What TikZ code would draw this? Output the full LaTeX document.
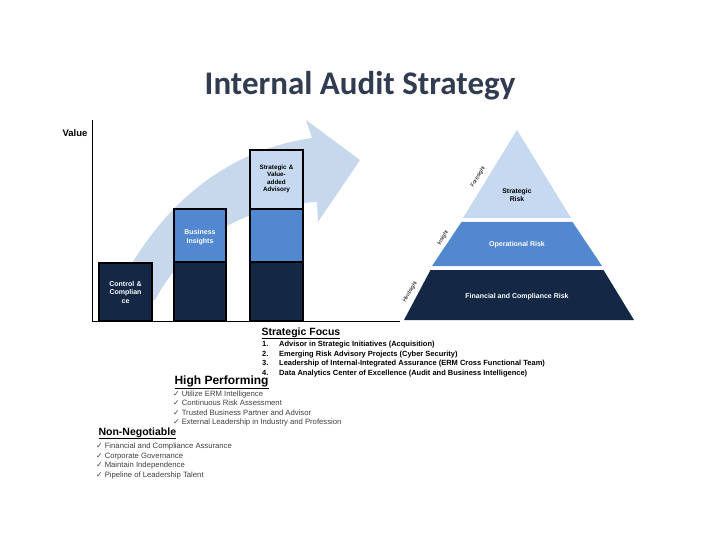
\documentclass[tikz,border=0pt]{standalone}
\usepackage{fontspec}
\setmainfont{Liberation Sans}
\newfontfamily\titlefont{Carlito}
\newfontfamily\dejavu{DejaVu Sans}
\newcommand{\chk}{{\dejavu ✓}}
\definecolor{navy}{RGB}{20,40,70}
\definecolor{midb}{RGB}{82,136,208}
\definecolor{lightb}{RGB}{198,217,240}
\definecolor{arrowb}{RGB}{200,216,236}
\definecolor{titlec}{RGB}{50,60,80}
\begin{document}
\begin{tikzpicture}[x=1pt,y=-1pt,
  bar/.style={draw=black,line width=1.6pt},
  inbar/.style={font=\fontsize{7}{8.5}\selectfont\bfseries,align=center,text width=50pt},
  head/.style={font=\fontsize{10.5}{12}\selectfont\bfseries,anchor=base west},
  item/.style={font=\fontsize{7.7}{8}\selectfont,anchor=base west,inner sep=1pt}]
\useasboundingbox[fill=white] (0,0) rectangle (720,540);
\node[font=\titlefont\fontsize{33}{38}\selectfont\bfseries,text=titlec] (title) at (360,86) {Internal Audit Strategy};
% arrow
\fill[arrowb] (112,300) .. controls (160,200) and (230,150) .. (312,138) -- (306,120) -- (360,160) -- (318,222) -- (317,202)
  .. controls (250,205) and (190,235) .. (155,300) -- cycle;
% axes
\coordinate (o) at (92,321);
\coordinate (ytop) at (92,120);
\coordinate (xend) at (400,321);
\draw[line width=0.8pt] (ytop) -- (o) -- (xend);
\node[font=\fontsize{9.5}{11}\selectfont\bfseries,anchor=east] (value) at (91,133) {Value};
% bars
\filldraw[bar,fill=navy] (99,263) rectangle (152,321);
\node[inbar,text=white] (b1) at (125.5,292) {Control \&\\ Complian\\ ce};
\filldraw[bar,fill=navy] (174,262) rectangle (226,321);
\filldraw[bar,fill=midb] (174,209) rectangle (226,262);
\node[inbar,text=white] (b2) at (200,237) {Business\\ Insights};
\filldraw[bar,fill=navy] (250,262) rectangle (303,321);
\filldraw[bar,fill=midb] (250,209) rectangle (303,262);
\filldraw[bar,fill=lightb] (250,150) rectangle (303,209);
\node[inbar,text=black,font=\fontsize{6.3}{7.5}\selectfont\bfseries] (b3) at (276.5,179) {Strategic \&\\ Value-\\ added\\ Advisory};
% pyramid
\fill[lightb] (517,130) -- (571,218) -- (463,218) -- cycle;
\fill[midb] (461.5,222) -- (572.5,222) -- (602,266) -- (432,266) -- cycle;
\fill[navy] (430.5,270) -- (603.5,270) -- (634,320) -- (404,320) -- cycle;
\node[font=\fontsize{6.8}{8}\selectfont\bfseries,align=center] (sr) at (517,195) {Strategic\\ Risk};
\node[font=\fontsize{7}{8}\selectfont\bfseries,text=white] (or) at (517,245) {Operational Risk};
\node[font=\fontsize{7}{8}\selectfont\bfseries,text=white] (fr) at (517,297) {Financial and Compliance Risk};
\node[font=\fontsize{5.5}{6}\selectfont,rotate=59,inner sep=0pt] (fs) at (478,177) {Foresight};
\node[font=\fontsize{5.5}{6}\selectfont,rotate=59,inner sep=0pt] (is) at (443,238) {Insight};
\node[font=\fontsize{5.5}{6}\selectfont,rotate=59,inner sep=0pt] (hs) at (410,292) {Hindsight};
% text lists
\node[head] (sf) at (258,335) {\underline{Strategic Focus}};
\foreach \n/\t [count=\i] in {1./Advisor in Strategic Initiatives (Acquisition),2./Emerging Risk Advisory Projects (Cyber Security),3./Leadership of Internal-Integrated Assurance (ERM Cross Functional Team),4./Data Analytics Center of Excellence (Audit and Business Intelligence)}{
  \node[item,font=\fontsize{7.5}{8}\selectfont\bfseries] (sfn\i) at (261,337+9.5*\i) {\n};
  \node[item,font=\fontsize{7.5}{8}\selectfont\bfseries] (sft\i) at (278,337+9.5*\i) {\t};
}
\node[head,font=\fontsize{12}{14}\selectfont\bfseries] (hp) at (171,384) {\underline{High Performing}};
\foreach \t [count=\i] in {Utilize ERM Intelligence,Continuous Risk Assessment,Trusted Business Partner and Advisor,External Leadership in Industry and Profession}{
  \node[item,text=black!75] (hp\i) at (172,386.5+9.5*\i) {\chk\ \t};
}
\node[head,font=\fontsize{10.5}{12}\selectfont\bfseries] (nn) at (95,435) {\underline{Non-Negotiable}};
\foreach \t [count=\i] in {Financial and Compliance Assurance,Corporate Governance,Maintain Independence,Pipeline of Leadership Talent}{
  \node[item,text=black!75] (nn\i) at (95,439+9.5*\i) {\chk\ \t};
}
\end{tikzpicture}
\end{document}
